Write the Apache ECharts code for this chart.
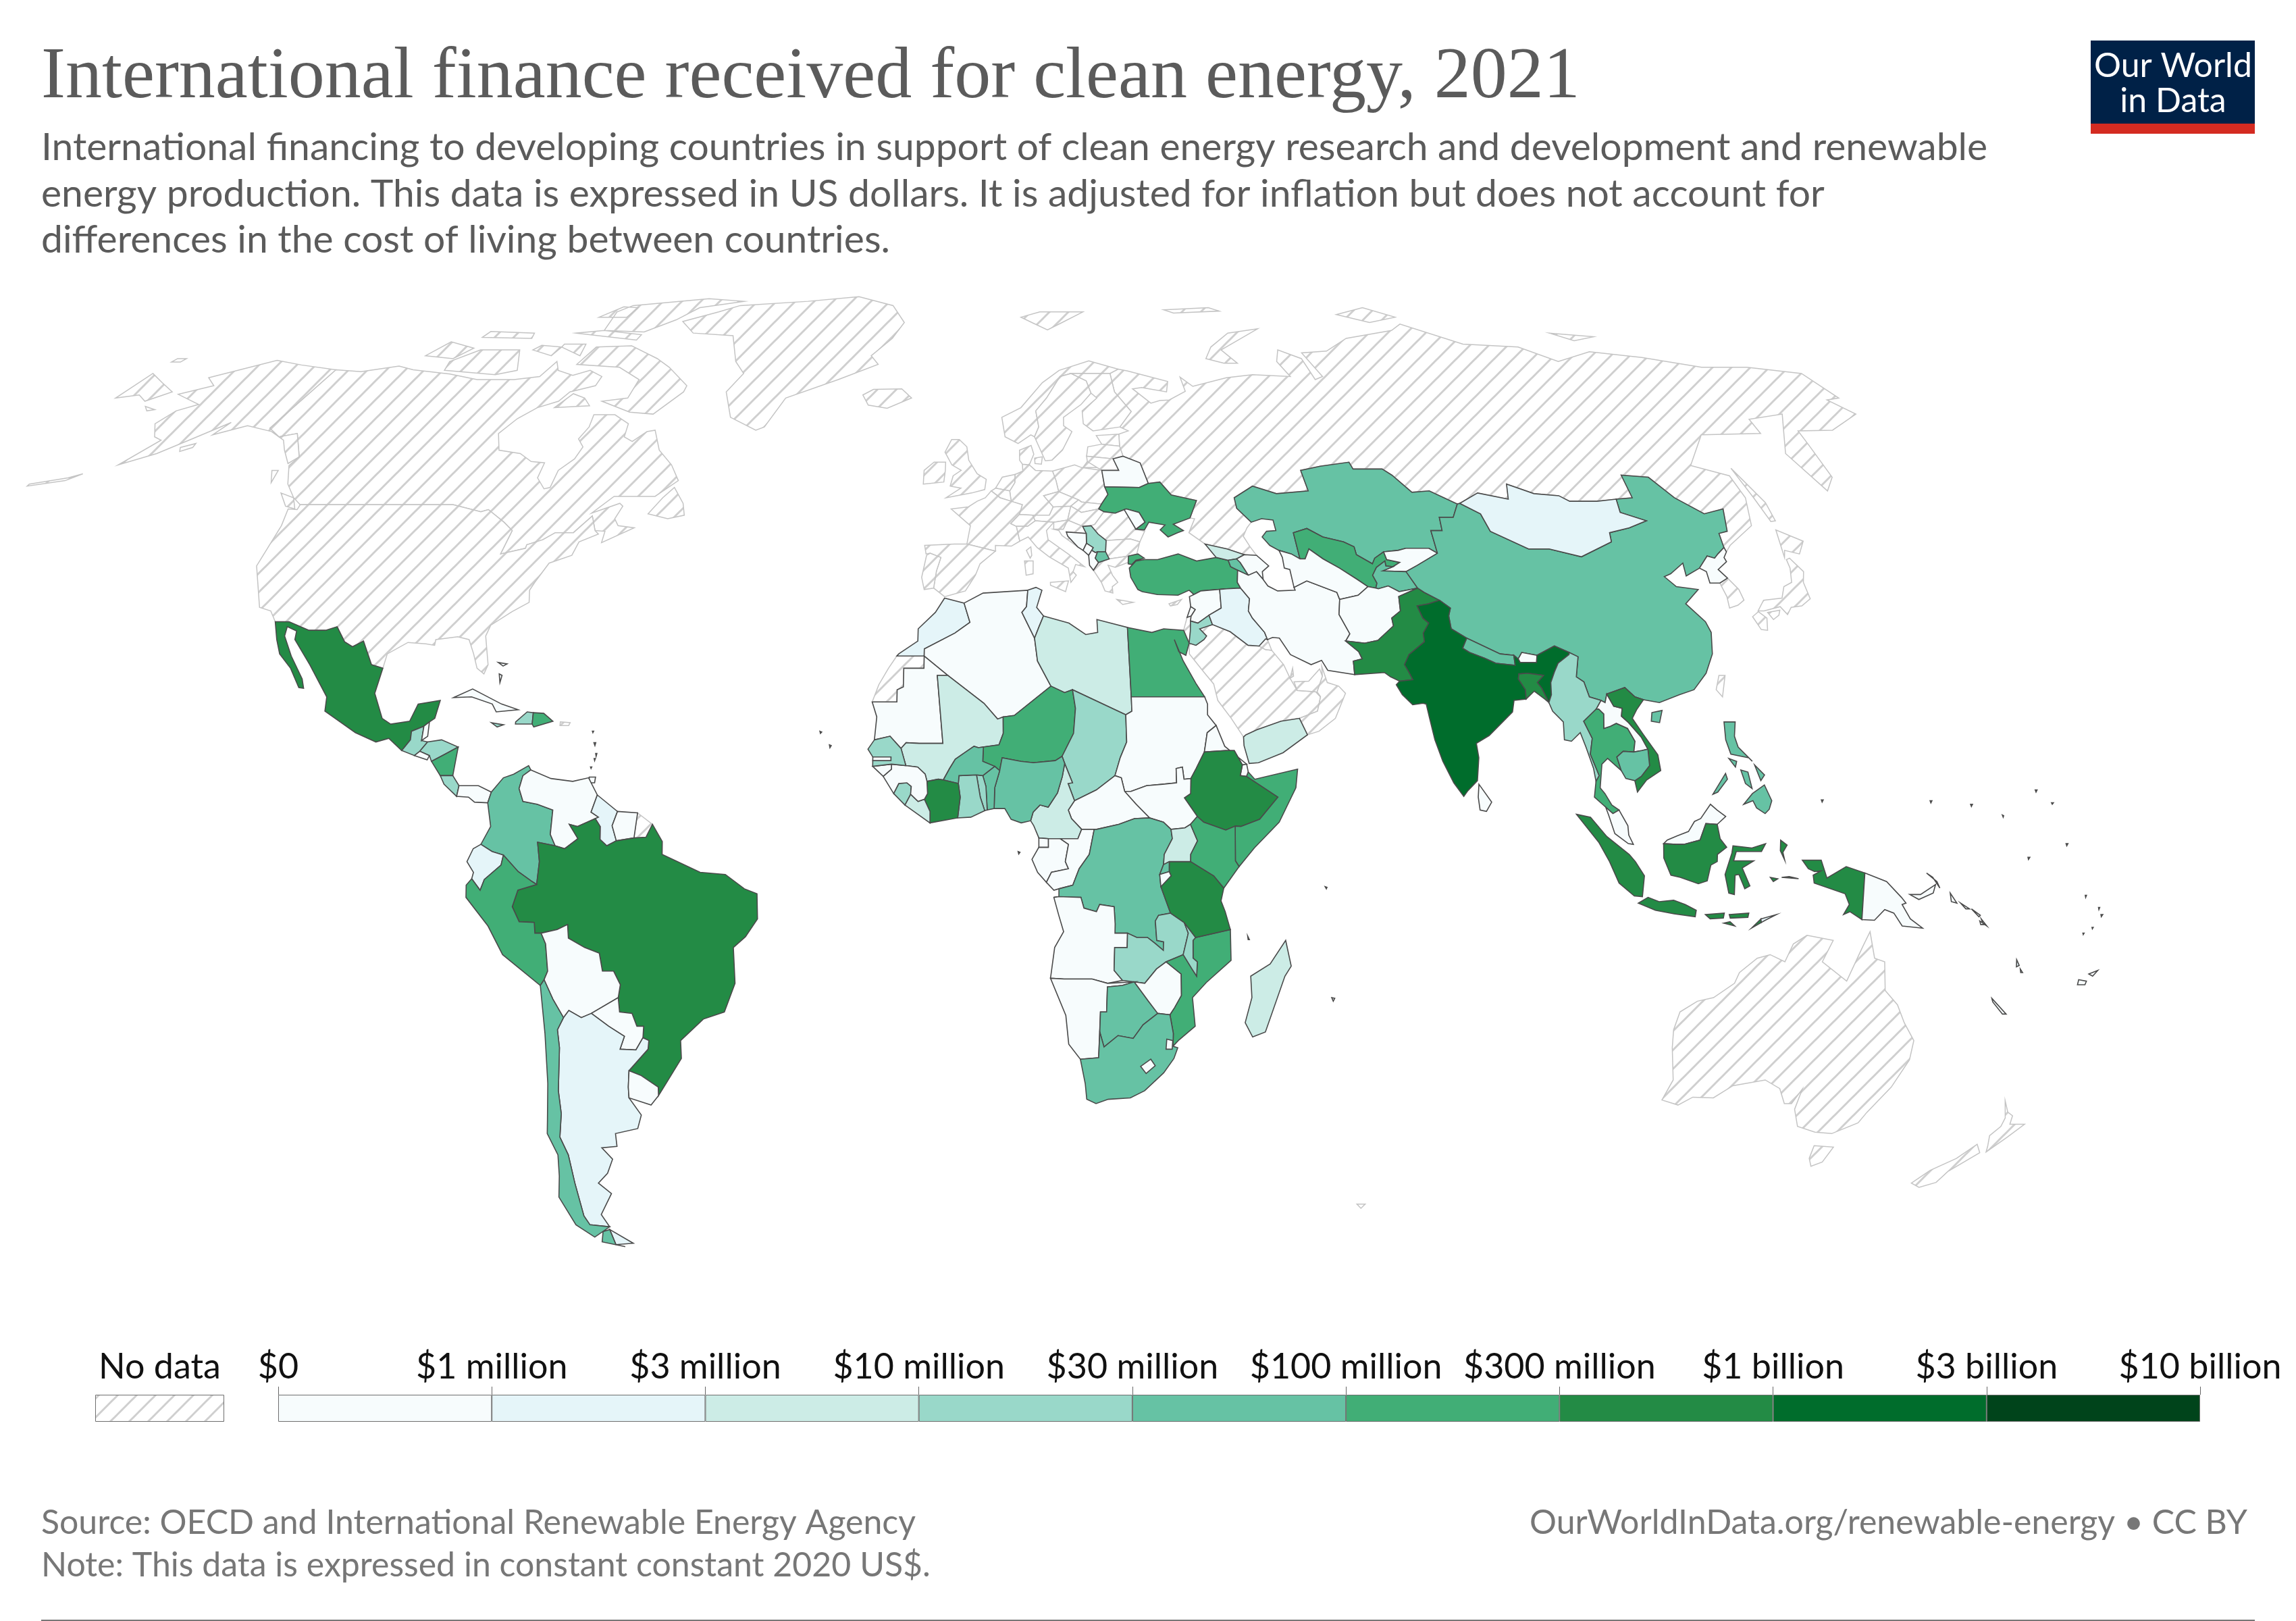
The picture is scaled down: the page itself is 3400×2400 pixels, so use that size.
<!DOCTYPE html>
<html><head><meta charset="utf-8">
<style>html,body{margin:0;padding:0;background:#fff}#c{width:3400px;height:2400px}</style>
<script src="https://cdn.jsdelivr.net/npm/echarts@6/dist/echarts.min.js"></script>
</head><body><div id="c"></div>
<script>
// ---------- legend bins ----------
const tickValues = [0, 1, 3, 10, 30, 100, 300, 1000, 3000, 10000]; // US$ million
const tickLabels = ['$0','$1 million','$3 million','$10 million','$30 million','$100 million','$300 million','$1 billion','$3 billion','$10 billion'];
const binColors = ['#f7fcfd','#e5f5f9','#ccece6','#99d8c9','#66c2a4','#41ae76','#238b45','#006d2c','#00441b'];
const legendBinSpan = [1,1,1,1,1,1,1,1,1];

// ---------- values (US$ million, estimated from the colour bin) ----------
const namesAmericas = ['Mexico','Guatemala','Belize','Honduras','El Salvador','Nicaragua','Costa Rica','Panama','Cuba','Bahamas','Jamaica','Haiti','Dominican Republic','Colombia','Venezuela','Guyana','Suriname','Ecuador','Peru','Brazil','Bolivia','Paraguay','Argentina','Uruguay','Chile','Antigua','Dominica','St Lucia','St Vincent','Grenada','Trinidad'];
const valuesAmericas = [500,15,0.4,15,0.5,150,15,0.5,0.5,0.2,15,15,150,60,0.3,2,0.5,2,150,600,0.5,0.5,2,0.5,60,0.2,0.2,0.2,0.2,0.2,0.2];
const namesAfrica = ['Morocco','Algeria','Tunisia','Libya','Egypt','Mauritania','Mali','Niger','Chad','Sudan','Eritrea','Djibouti','Ethiopia','Somalia','South Sudan','Central African Republic','Cameroon','Nigeria','Benin','Togo','Ghana','Burkina Faso','Ivory Coast','Liberia','Sierra Leone','Guinea','Guinea-Bissau','Senegal','Gambia','Gabon','Equatorial Guinea','Congo','DR Congo','Angola','Zambia','Namibia','Botswana','Zimbabwe','Mozambique','Malawi','Tanzania','Rwanda','Burundi','Uganda','Kenya','South Africa','Lesotho','Eswatini','Madagascar','Cape Verde','Sao Tome','Comoros','Mauritius','Seychelles'];
const valuesAfrica = [2,0.5,2,5,150,0.5,5,150,20,0.3,0.2,0.3,500,150,0.3,0.4,6,60,60,15,20,60,500,5,15,0.5,0.2,15,0.2,0.5,0.1,0.4,60,0.6,15,0.4,60,0.5,150,15,500,50,0.4,6,150,60,0.2,0.2,5,0.3,0.1,0.1,0.3,0.1];
const namesEurope = ['Belarus','Ukraine','Moldova','Serbia','Bosnia','Montenegro','Albania','North Macedonia','Turkey','Georgia','Armenia','Azerbaijan'];
const valuesEurope = [0.3,150,0.5,15,0.5,0.5,0.6,50,200,5,50,0.5];
const namesAsia = ['Syria','Lebanon','Jordan','Iraq','Iran','Yemen','Kazakhstan','Uzbekistan','Turkmenistan','Kyrgyzstan','Tajikistan','Afghanistan','Pakistan','India','Nepal','Bhutan','Bangladesh','Myanmar','Thailand','Laos','Vietnam','Cambodia','Malaysia','Indonesia','Timor','Philippines','China','Mongolia','North Korea','Sri Lanka'];
const valuesAsia = [0.4,0.5,20,2,0.5,5,50,150,0.5,0.5,50,0.5,600,1800,50,0.5,500,20,150,0.6,600,50,0.5,600,2,60,70,2,0.1,0.5];
const namesOceania = ['Papua New Guinea','Solomon Islands','Vanuatu','New Caledonia','Fiji','Palau','Micronesia','Marshall Islands','Kiribati','Nauru','Tuvalu','Samoa','Tonga'];
const valuesOceania = [0.5,0.6,2,0.3,0.5,0.2,0.2,0.2,0.2,0.1,0.1,0.2,0.2];

// ---------- base map: hand-simplified outlines, lon,lat ----------
const noDataShapes = {
 'Canada':['-141,69.6 -135,69.3 -128,70.2 -124,69.6 -115,68.9 -108,68 -100,68 -95,68.5 -94,71 -92,69.5 -88,68.7 -85,69.5 -81.5,68.5 -81.5,67 -86,66 -87,64.5 -90.5,63.5 -93,61.8 -94.7,59.5 -92.5,57 -88,56.5 -85,55.3 -82.3,55.1 -82.2,52.9 -80,51.3 -79,51.5 -79,54 -77,55.7 -76.6,57.5 -78.3,58.7 -77.5,60.5 -78,62.4 -73.7,62.4 -70,61 -69.5,59 -67.5,58.3 -65.5,59.8 -64,60 -61.5,57 -58,54.8 -55.7,52.5 -59,50.2 -66.5,50.2 -69.5,47.8 -65,49.2 -64.3,48.8 -65,47 -64,46 -61,45.7 -66,43.6 -66,45.2 -67.8,45.3 -69.2,47.4 -71.5,45 -74.7,45 -76.5,44 -79,43.3 -79,42.8 -83,42 -82.5,45.3 -84.6,46.5 -88.4,48.3 -89.6,48 -95.2,49 -123,49 -125,50 -128,52 -130.5,54.7 -130,56 -134.5,59.5 -137.5,59 -141,60.3',
  '-80,73.7 -72,71.5 -68,70 -62,67 -62,66 -66,62.5 -71,62.8 -78,64.5 -73,65 -73,68 -79,70 -89,70.5 -88,73.5','-117,69.5 -105,68.8 -101,69.5 -105,73 -114,73 -118,71','-125,72 -118,71.5 -116,73.3 -123,74.4','-90,76.5 -80,76.2 -75,78.5 -72,81 -62,82.5 -72,83.1 -90,81.5 -92,80','-96,76 -80,74.7 -80,75.7 -90,76.5','-117,75.2 -105,75 -106,76 -117,76.3','-95,79 -88,79 -88,81 -92,81.2','-96,73.5 -90,72 -91,74 -96,74','-87,63.5 -80,63.8 -82,65 -85,65.7','-59.3,47.7 -55.5,47 -52.7,47.5 -53.5,49.2 -56,51.5 -57.5,50','-128,50.7 -125,50 -123.5,48.4 -125.5,48.8','-133,54 -131.8,54 -131.3,52.2','-102,73 -96.5,72 -96,73.5 -101,73.8'],
 'United States':['-123,49 -95.2,49 -89.6,48 -88.4,48.3 -84.6,46.5 -82.5,45.3 -83,42 -79,42.8 -79,43.3 -76.5,44 -74.7,45 -71.5,45 -69.2,47.4 -67.8,45.3 -67,44.8 -70,43.7 -70.5,41.8 -74,40.7 -75.5,38 -76,36.9 -75.5,35.2 -78,33.9 -81,32 -81.4,30.5 -80.1,26.5 -80.5,25.2 -81.8,26 -82.8,28 -84,30 -86,30.4 -89.5,30 -89.5,29.2 -91,29.4 -94,29.6 -97,28 -97.2,26 -99.2,26.5 -101.4,29.8 -103,29 -104.5,29.7 -106.5,31.8 -108.2,31.3 -111,31.3 -114.8,32.5 -117.1,32.5 -118.5,34 -120.6,34.5 -122,36.8 -124.3,40.3 -124,46 -124.7,48.4 -123,48.3',
  '-141,69.6 -141,60.3 -137.5,59 -134.5,59.5 -130,56 -131,55 -134,57 -136,58.5 -140,59.8 -146,60.7 -151,59.3 -150,61.2 -154,58.8 -158,56.5 -163,54.8 -160,58.5 -162,59 -165,61 -164,63 -161,64 -168,65.6 -163,67 -166.5,68.3 -157,71.2 -150,70.4','-154.7,57.4 -152.5,58 -152.3,57.4 -154,56.8','-176,52 -170,52.9 -168,53.5 -170,52.5 -176,51.7','-171.5,63.7 -168.7,63.2 -170,63'],
 'Greenland':['-73,78.2 -68,76 -58,75.5 -54,71 -51,69 -53,66 -50,62 -44,60 -42.5,60.5 -40,65 -30,68 -22,70.5 -24,72 -20,75 -18,78 -22,81.5 -32,83.6 -45,82.5 -62,81.5 -66,80'],
 'Iceland':['-24,65.5 -22,66.4 -16,66.5 -13.7,65 -18.5,63.4 -22.5,63.9'],
 'Puerto Rico':['-67.2,18.5 -65.6,18.4 -65.8,18 -67.2,18'],
 'French Guiana':['-54,5.8 -51.6,4.2 -52.6,2.4 -54.5,2.3'],
 'Western Sahara':['-8.7,27.7 -8.7,26 -12,26 -12,23.4 -13,23 -13,21.3 -17,21.3 -16,23.7 -14.5,26 -13.2,27.7'],
 'Russia':['31,69.7 33,69.4 41,67.7 40,66 35,66.7 33,66.5 36,64.2 38,64.6 40,64.7 44,66.1 44,68.4 46,66.9 54,68.3 60,68.8 68,68.5 67,71 69,73 73,71.5 73,68 75,68.5 74,72.5 80,72.8 87,75 100,76.5 104,77.7 113,74 125,73.5 130,71 140,72.7 150,71.7 160,70 170,70 180,69 180,65 177,64.7 179,62.5 170,60 163,59.9 162,57.8 160,53 156.7,51 155.7,56.5 161,60.5 164,62.5 156,61.7 155,59.5 143,59.3 135.3,54.7 141,53.2 140.5,50 138,46 132,43.2 130.7,42.3 130.7,42.9 131.3,44.9 133,45.2 135,48.4 131,47.7 127.5,50 125.6,53 120.8,53.3 119.8,50 116.7,49.8 113,49.5 108,49.5 106.6,50.3 102.3,50.6 98.3,52 97,49.8 92,50.7 87.8,49.2 87.3,49.1 83.3,51 80,50.8 77.8,53.3 76.5,54.2 71,54.2 70.8,55.2 65,54.6 61,54 61,51 55,50.6 51,51.7 47,50 47,48.5 49,46.5 48,45.7 47,44.5 47.8,43 48.6,41.8 46.5,41.9 43.7,42.7 40,43.4 37.5,45 39,47 38.2,47.1 40,49.6 35.6,50.4 34,52.3 31.8,52.1 31,55.1 28,56.1 27.7,57.6 28,59.4 30,59.9 28.5,60.5 31.5,62.9 29,66 29,69',
  '-180,69 -175,67.5 -170,66 -173,64.5 -176,65.5 -180,65','-180,71.5 -178,71.5 -178,70.9 -180,70.9','51.5,71.5 55,70.7 58,70.7 56,73 68,76.8 60,76 54,73.5','48,80.5 60,81 62,80.2 50,79.8','142.5,54.3 143.5,49.3 142.9,46.7 142,46.6 142,50','20,54.4 22.8,54.4 22.8,55 21,55.3','91,79.5 100,81 105,79 97,78','137,76 146,75.3 140,74.6'],
 'Svalbard':['11,79 16,80 27,80 21,78 17,76.6 14,77.8'],
 'Norway':['31,69.7 29,69 25.7,69 20.5,69 18,68.5 14.5,65 12,63 12.3,60.5 11.3,59 10.6,59.3 8,58 5.5,59 5,62 9,63.5 14,67.5 18,69.5 25,71.1'],
 'Sweden':['20.5,69 23.5,67.8 24,65.8 21.5,64 17.5,62 17.3,60.7 18.8,59.8 16.5,57 14.3,55.5 13,55.4 11.3,59 12.3,60.5 12,63 14.5,65 18,68.5'],
 'Finland':['25.7,69 29,69 29,66 31.5,62.9 28.5,60.5 23,59.9 21.3,61 21.5,63 25,65 24,65.8 23.5,67.8 20.5,69'],
 'Estonia':['28,59.4 27.7,57.6 24.3,57.9 23.5,59.2'],
 'Latvia':['27.7,57.6 28,56.1 26,55.7 21,56.1 21.5,57.5 24.3,57.9'],
 'Lithuania':['26,55.7 26.7,54 23.5,54 21,55.3 21,56.1'],
 'Poland':['14.2,53.9 18.5,54.8 19.8,54.4 23.5,54 23.6,51.6 24,50.5 22.6,49.1 19,49.4 18.5,49.7 15,50.9 14.7,52.5'],
 'Germany':['8.6,54.9 9.9,54.8 11,54 14.2,53.9 14.7,52.5 15,50.9 12.2,50.3 13.8,48.7 13,47.5 10,47.5 7.6,47.6 8.2,49 6.2,49.5 6,51 7,52.2 7.1,53.4 8.6,53.9'],
 'Denmark':['8.6,54.9 9.9,54.8 10.9,56.4 10.5,57.7 8.2,57 8.1,55.5','11,55.8 12.5,56 12.2,54.9 11,55'],
 'Netherlands':['7.1,53.4 7,52.2 6,51 3.4,51.4 4.7,53'],
 'Belgium':['6,51 6.2,49.5 4.2,50 2.6,51 3.4,51.4'],
 'France':['2.6,51 4.2,50 6.2,49.5 8.2,49 7.6,47.6 6,46.3 7,45.9 7.5,43.8 6,43.1 3.2,43.2 3.2,42.4 -1.8,43.4 -1.2,46 -4.7,48.4 -1.6,48.7 0,49.5 1.5,50','8.6,42.5 9.4,43 9.5,41.8 9.2,41.4'],
 'Spain':['-1.8,43.4 3.2,42.4 0.5,40.6 -0.3,39 -2,36.8 -5.5,36 -7.4,37.2 -7,39.6 -6.3,41.5 -8.2,42.1 -8.9,42 -9.2,43.2 -4,43.4'],
 'Portugal':['-7.4,37.2 -9,37 -9.5,38.7 -8.8,41.8 -8.2,42.1 -6.3,41.5 -7,39.6'],
 'United Kingdom':['-5.7,50 -1,50.7 1.4,51.2 1.7,52.7 0,53.5 -1.6,55.5 -2,57.5 -3.5,58.6 -5,58.6 -6.2,56.7 -4.8,54.8 -3,54 -4.5,53.2 -5,51.7 -3,51.4'],
 'Ireland':['-10,52 -6.2,52.3 -6,54 -6,55.2 -8.2,55.2 -10,54'],
 'Switzerland':['7.6,47.6 10,47.5 10.4,46.7 9,45.9 7,45.9 6,46.3'],
 'Austria':['10,47.5 13,47.5 13.8,48.7 17,48.8 16.2,46.8 13.7,46.5 10.4,46.7'],
 'Italy':['7,45.9 9,45.9 10.4,46.7 13.7,46.5 12.3,45.3 12.5,44 16,41.9 18.5,40.2 17,40.5 16.5,39.5 17,39 16,38 15.7,40 12.5,41.6 10.5,42.9 9,44.4 7.5,43.8','12.5,38 15.6,38.2 15,36.7 12.5,37.6','8.2,41 9.7,41 9.6,39.2 8.4,39'],
 'Czechia':['12.2,50.3 15,50.9 18.5,49.7 17,48.8 13.8,48.7'],
 'Slovakia':['17,48.8 18.5,49.7 19,49.4 22.6,49.1 22,48.4 18.8,47.9'],
 'Hungary':['17,48.8 18.8,47.9 22,48.4 22.9,48 21,46.2 20.3,46 18.8,45.9 16.2,46.8'],
 'Romania':['22.9,48 24.9,47.8 26.6,48.3 28.2,45.5 29.7,45.2 28.6,43.7 27,44.1 22.7,43.9 21.4,44.8 20.3,46 21,46.2'],
 'Bulgaria':['22.7,43.9 27,44.1 28.6,43.7 27.8,42 26.3,41.7 22.9,41.3 22.4,42.3'],
 'Greece':['20,39.7 21,40.8 22.9,41.3 26.3,41.7 26.1,40.8 23.8,40.1 22.6,40.4 23.2,39 24,38 23,37.4 23,36.5 21.7,36.8 21.2,38','23.6,35.6 26.3,35.2 24.5,34.9'],
 'Cyprus':['32.3,35 34.5,35.6 33.7,34.9 32.5,34.7'],
 'Croatia':['13.6,45.5 14.5,45.3 15,44.6 17.6,43 18.5,42.5 16,44.5 15.8,45.1 19.3,44.9 18.8,45.9 16.2,46.8 15.3,45.5'],
 'Slovenia':['13.7,46.5 16.2,46.8 15.3,45.5 13.6,45.5'],
 'Israel':['35.1,33.1 35.8,33.3 35.6,32.6 35.4,31.2 35,29.5 34.3,31.3'],
 'Saudi Arabia':['36.1,29.2 37.5,30 38,30.5 37,31.5 39.2,32.1 42,31.1 44.7,29.2 46.5,29.1 47.5,28.6 48.5,28.5 50.2,26.5 51,24.6 52,22.9 55,22.7 55.7,22 55,20 52,19 49,18.6 45,17.4 43.2,16.7 42.8,16.4 41,19 39,21.5 38.5,23.8 37,25.5 34.9,28 35,29.5'],
 'Oman':['52,19 55,20 55.7,22 55.2,22.7 56.3,24.9 56.4,26.3 57,24 58.8,23.5 59.8,22.5 57.8,19 55,17.2 53.1,16.7'],
 'UAE':['51.6,24.1 52,22.9 55,22.7 55.7,22 55.2,22.7 56.3,24.9 56,25.9 54,24.2'],
 'Kuwait':['47.7,30.1 48,30 48.5,28.5 47.5,28.6 46.5,29.1'],
 'Qatar':['51,24.6 51.6,26 51.6,24.9'],
 'South Korea':['128.4,38.6 129.4,37 129.4,35.5 128,34.8 126.4,34.4 126.8,36 126.7,37.6 126.7,37.9'],
 'Japan':['141,41.4 142,39.5 141,38 140.7,35.7 138.7,34.7 136.8,34.5 135.7,33.5 135,34.6 132,34 131,34 132.7,35.5 136,35.8 137.3,37.4 139,38 140,40 140.3,41.2','140.2,41.5 141.8,45.4 145.3,43.8 143.2,42 141,42.5','131,33.9 132,33 131.3,31.3 130.3,31.4 129.7,33.2','132.5,33.8 134.7,34.1 134.2,33.4 133,32.8'],
 'Taiwan':['121,25 122,25 120.9,22 120.1,23'],
 'Australia':['114,-22 116.5,-20.5 119,-20 122,-18 122.5,-16.5 125,-14.5 127,-14 129.5,-15 130.5,-12.5 132.5,-11.3 136.8,-12 135.5,-15 140,-17.7 141.6,-13 142.5,-10.8 143.8,-14.5 145.5,-15 146.5,-19 149,-21 150.8,-23.5 153.2,-26 153.6,-28.7 152.5,-32.5 150.5,-36 150,-37.5 146.5,-39 143.5,-38.8 140,-38 138,-35.6 137.8,-32.8 137,-34.8 135.8,-34.8 134,-32.7 131,-31.5 126,-32.3 123.5,-34 120,-33.9 118,-35 115,-34.3 115.7,-31.5 114,-27 113.5,-24.5','144.7,-40.7 148.2,-40.9 148,-43 146.5,-43.6 145.3,-42.5'],
 'New Zealand':['172.7,-34.4 174.3,-36 175.5,-36.5 176,-37.7 178.5,-37.7 177,-39.5 175.3,-41.6 174.8,-40.8 173.8,-39.3 174.7,-38 174.5,-36.8','172.7,-40.5 174.3,-41.7 171.3,-44.3 170.8,-45.9 168.5,-46.6 166.5,-46 168,-44.2 171,-42.5'],
 'Kerguelen':['69,-49 70.5,-49 70,-49.6']
};
const dataShapes = {
 'Mexico':['-117.1,32.5 -114.8,32.5 -111,31.3 -108.2,31.3 -106.5,31.8 -104.5,29.7 -103,29 -101.4,29.8 -99.2,26.5 -97.2,26 -97.8,22.5 -96,19 -94.5,18.2 -91.5,18.6 -90.5,21 -87,21.5 -87.5,19 -88.3,18.5 -89.1,17.9 -91,17.2 -91,16 -92.2,14.5 -94.5,16.2 -96.5,15.7 -100,17 -105.4,20 -105.5,22 -109.3,26.5 -112.8,30 -113,31.2 -114.8,31.8 -114.7,30.5 -112.7,27.7 -110,24.5 -109.5,23.2 -110.3,23.3 -112.3,26 -114.7,28 -115.8,30'],
 'Guatemala':['-92.2,14.5 -91,16 -91,17.2 -89.1,17.9 -89.2,15.9 -88.2,15.7 -89.3,14.4 -90.1,13.8'],
 'Belize':['-89.1,17.9 -88.3,18.5 -88.3,16.5 -89.2,15.9'],
 'Honduras':['-89.3,14.4 -88.2,15.7 -86,16 -83.2,15 -85,14.1 -87.3,13 -87.7,13.8'],
 'El Salvador':['-90.1,13.8 -89.3,14.4 -87.7,13.8 -88,13.2'],
 'Nicaragua':['-87.3,13 -85,14.1 -83.2,15 -83.7,11 -85.7,11'],
 'Costa Rica':['-85.7,11 -83.7,11 -82.6,9.6 -82.9,8.1 -85,9.8'],
 'Panama':['-82.6,9.6 -79.5,9.6 -77.4,8.7 -77.9,7.2 -80,7.3 -81,8 -82.9,8.1'],
 'Cuba':['-84.9,21.9 -82,23.1 -77,21 -74.2,20.2 -77.7,19.9 -78.5,21 -82,22'],
 'Bahamas':['-78.5,26.8 -77,26.6 -77.6,26.3','-78,25.2 -77.5,25 -77.7,24'],
 'Jamaica':['-78.3,18.4 -76.3,18.1 -77.3,17.8'],
 'Haiti':['-74.4,18.5 -72.7,19.9 -71.7,19.8 -71.7,18.2 -74.4,18.2'],
 'Dominican Republic':['-71.7,19.8 -70,19.7 -68.4,18.6 -71.4,17.8 -71.7,18.2'],
 'Antigua':['-61.9,17.2 -61.7,17.2 -61.8,17'],'Dominica':['-61.5,15.6 -61.2,15.6 -61.3,15.2'],'St Lucia':['-61.1,14.1 -60.9,14.1 -61,13.7'],'St Vincent':['-61.3,13.4 -61.1,13.4 -61.2,13.1'],'Grenada':['-61.8,12.2 -61.6,12.2 -61.7,12'],
 'Trinidad':['-61.9,10.8 -60.9,10.8 -61,10 -61.9,10'],
 'Colombia':['-71.7,12.4 -71.3,11.8 -72.5,11 -73,9.2 -72.3,7.4 -70,7 -67.5,6.2 -67.8,2.8 -67,1.2 -69.8,1.7 -69.5,-1 -70,-4.2 -70.7,-3.8 -72.9,-2.4 -75.2,-0.1 -77,0.4 -78.8,1.4 -77.3,3.9 -77.9,7.2 -77.4,8.7 -75.6,10.7 -74,11.2'],
 'Venezuela':['-71.3,11.8 -68,10.6 -64.5,10.2 -62,10.7 -60.5,8.3 -61.4,5.9 -60.2,5.2 -60.7,5 -63.5,3.9 -64.8,4.2 -63.4,2.2 -65.5,0.8 -67,1.2 -67.8,2.8 -67.5,6.2 -70,7 -72.3,7.4 -73,9.2 -72.5,11'],
 'Guyana':['-60.5,8.3 -57.2,6 -58,4 -57.3,1.9 -58.8,1.2 -59.9,2.1 -59.9,3.9 -60.7,5 -60.2,5.2 -61.4,5.9'],
 'Suriname':['-57.2,6 -54,5.8 -54.5,2.3 -57.3,1.9 -58,4'],
 'Brazil':['-51.6,4.2 -50,1.8 -50,0 -48.3,-0.7 -44,-2.5 -40,-2.8 -37,-4.8 -35,-5.5 -35,-9 -37,-11.5 -39,-13 -39,-18 -41,-22 -44.5,-23 -48.5,-26 -48.7,-28.5 -52,-32.2 -53.4,-33.7 -53.2,-32.5 -55.7,-30.9 -57.6,-30.2 -54,-27.2 -53.7,-26 -54.6,-25.6 -54.3,-24 -55.4,-24 -56,-22.2 -58,-22 -58,-20 -57.5,-18.2 -58.4,-16.3 -60.2,-16.3 -60.5,-13.8 -62.8,-13 -65.3,-11.7 -65.3,-9.8 -67,-10.5 -69.6,-11 -70.6,-11 -70.6,-9.5 -73,-9.4 -74,-7.3 -73,-5 -70,-4.2 -69.5,-1 -69.8,1.7 -67,1.2 -65.5,0.8 -63.4,2.2 -64.8,4.2 -63.5,3.9 -60.7,5 -59.9,3.9 -59.9,2.1 -58.8,1.2 -57.3,1.9 -54.5,2.3 -52.6,2.4'],
 'Ecuador':['-78.8,1.4 -77,0.4 -75.2,-0.1 -75.6,-1.5 -78.3,-3.5 -79,-5 -80.3,-3.4 -80,-2.5 -81,-1 -80,0.8'],
 'Peru':['-75.2,-0.1 -72.9,-2.4 -70.7,-3.8 -70,-4.2 -73,-5 -74,-7.3 -73,-9.4 -70.6,-9.5 -70.6,-11 -69.6,-11 -69,-12.5 -69,-16.3 -69.7,-17.5 -70.4,-18.3 -76,-14 -78,-10 -81.3,-6 -81.2,-4.3 -80.3,-3.4 -79,-5 -78.3,-3.5 -75.6,-1.5'],
 'Bolivia':['-69.6,-11 -67,-10.5 -65.3,-9.8 -65.3,-11.7 -62.8,-13 -60.5,-13.8 -60.2,-16.3 -58.4,-16.3 -57.5,-18.2 -58,-20 -62.6,-22.2 -64.3,-22.8 -66.2,-21.8 -67.2,-22.8 -68.6,-20.2 -69.7,-17.5 -69,-16.3 -69,-12.5'],
 'Paraguay':['-58,-20 -58,-22 -56,-22.2 -55.4,-24 -54.3,-24 -54.6,-25.6 -56,-27.3 -58.6,-27.2 -57.6,-25.4 -60,-24 -62.6,-22.2'],
 'Argentina':['-66.2,-21.8 -64.3,-22.8 -62.6,-22.2 -60,-24 -57.6,-25.4 -58.6,-27.2 -56,-27.3 -54.6,-25.6 -53.7,-26 -54,-27.2 -57.6,-30.2 -58.2,-32.5 -58.4,-34 -56.9,-36.4 -58,-38.3 -62,-39 -62.3,-40.8 -65,-41 -63.7,-42.6 -65.3,-44.6 -67.5,-46 -65.8,-47.5 -69,-50.5 -68.4,-52.3 -71.9,-52 -72.3,-50.7 -71.7,-46 -71.2,-42 -71.7,-39.5 -70.4,-36.2 -70,-33 -68.5,-27 -68.4,-24.5 -67.2,-22.8','-68.6,-52.7 -68.6,-54.9 -65.2,-54.7'],
 'Chile':['-70.4,-18.3 -69.7,-17.5 -68.6,-20.2 -67.2,-22.8 -68.4,-24.5 -68.5,-27 -70,-33 -70.4,-36.2 -71.7,-39.5 -71.2,-42 -71.7,-46 -72.3,-50.7 -71.9,-52 -68.4,-52.3 -72,-53.8 -74.5,-52 -75.5,-48 -74,-45 -73,-42 -73.7,-39 -73,-37 -71.5,-32 -70.5,-25','-68.6,-52.7 -68.6,-54.9 -67,-55.2 -71,-54.5 -70,-53'],
 'Uruguay':['-57.6,-30.2 -55.7,-30.9 -53.2,-32.5 -53.4,-33.7 -54.9,-35 -58.4,-34 -58.2,-32.5'],
 'Morocco':['-5.5,35.8 -2.2,35.1 -1.2,32.4 -3.7,30.9 -8.7,28.7 -8.7,27.7 -13.2,27.7 -12.9,28 -9.8,29.8 -9.8,31.5 -7,33.8'],
 'Algeria':['-2.2,35.1 1,36.5 8.6,36.9 8.3,34.6 7.5,33.8 9.5,30.2 9.9,27 12,23.5 6,19.4 4.2,19.2 3.3,18.9 1.1,21.1 -4.8,25 -8.7,27.7 -8.7,28.7 -3.7,30.9 -1.2,32.4'],
 'Tunisia':['8.6,36.9 10,37.3 11,36.9 10,34.5 11.1,33.3 10.3,31.8 9.5,30.2 7.5,33.8 8.3,34.6'],
 'Libya':['11.1,33.3 15.3,32.3 18,30.7 20,31 20,32.8 25,31.7 25,22 25,20 24,19.5 15.5,23 14.2,22.6 12,23.5 9.9,27 9.5,30.2 10.3,31.8'],
 'Egypt':['25,31.7 29,31 31,31.5 34.3,31.3 35,29.5 34.3,27.8 33.2,28.3 32.6,30 33.8,27 35.6,23.9 36.9,22 25,22'],
 'Mauritania':['-17,21.3 -13,21.3 -13,23 -12,23.4 -12,26 -8.7,26 -8.7,27.7 -4.8,25 -6.5,25 -5.5,15.5 -9.3,15.5 -11.4,15.6 -12.2,14.8 -14,16.5 -16.5,16 -16.2,19.2'],
 'Mali':['-4.8,25 1.1,21.1 3.3,18.9 4.2,19.2 4.2,16.9 3.5,15.3 1,15 0.2,14.9 -0.5,15.1 -2,14.2 -3.5,13.3 -4.4,12 -5.4,10.4 -6.2,10.5 -8,10.2 -8.3,11.2 -9.5,12.2 -11.4,12.4 -12.2,14.8 -11.4,15.6 -9.3,15.5 -5.5,15.5 -6.5,25'],
 'Niger':['4.2,19.2 6,19.4 12,23.5 14.2,22.6 15.5,23 15.9,20.4 15.5,16.9 13.6,13.7 12.5,13.1 9,12.8 7,13 4,13.5 3.6,11.7 2.8,12.3 0.9,13 1,15 3.5,15.3 4.2,16.9'],
 'Chad':['15.5,23 24,19.5 24,15.7 22.9,13.5 22,11 19,9 15.5,7.5 14.5,9.9 15.2,10 14,12.7 13.6,13.7 15.5,16.9 15.9,20.4'],
 'Sudan':['25,22 36.9,22 37.3,21 37.2,19.5 38.5,18 37,17 36.4,14.3 35,12 34.1,10.6 33,10.5 32.8,12.2 31.8,12 31.8,10 29.6,9.8 27,9.6 24.5,8.8 23.5,8.8 23,10.7 22,11 22.9,13.5 24,15.7 24,19.5 25,20'],
 'Eritrea':['38.5,18 39.7,15.1 43.1,12.6 42.4,12.5 41.2,14.5 39.8,14.5 36.4,14.3 37,17'],
 'Djibouti':['42.4,12.5 43.1,12.6 43.3,11.5 43,10.9 42,11'],
 'Ethiopia':['36.4,14.3 39.8,14.5 41.2,14.5 42.4,12.5 42,11 43,10.9 47.9,8 44.9,4.9 41.9,3.9 41,3.95 39.5,3.4 36,4.5 35,5.3 33,7.9 34,8.5 34.1,10.6 35,12'],
 'Somalia':['43.3,11.5 44.3,10.5 51.2,11.9 50.8,9.3 48,4.5 44,0.9 41.6,-1.7 41,-0.9 41,3.95 41.9,3.9 44.9,4.9 47.9,8 43,10.9'],
 'South Sudan':['23.5,8.8 24.5,8.8 27,9.6 29.6,9.8 31.8,10 31.8,12 32.8,12.2 33,10.5 34.1,10.6 34,8.5 33,7.9 35,5.3 33.9,4.2 33,3.7 30.8,3.5 29.6,4.5 27.4,5.1 25.3,7'],
 'Central African Republic':['15.5,7.5 19,9 22,11 23,10.7 23.5,8.8 25.3,7 27.4,5.1 25,5 22.5,4.2 19,3.5 18.6,3.5 16.6,3.5 15,5 14.5,6.2'],
 'Cameroon':['8.5,4.7 9,4 9.8,2.3 11.3,2.2 13.2,2.2 16,2.2 16.6,3.5 15,5 14.5,6.2 15.5,7.5 14.5,9.9 15.2,10 14,12.7 13.6,10.9 12.8,8.6 11.3,6.6 10,6.9 8.9,5.9'],
 'Nigeria':['2.7,6.4 4.4,6.4 5.4,4.9 7,4.4 8.5,4.7 8.9,5.9 10,6.9 11.3,6.6 12.8,8.6 13.6,10.9 14,12.7 13.6,13.7 12.5,13.1 9,12.8 7,13 4,13.5 3.6,11.7 2.8,9.3'],
 'Benin':['1.6,6.2 2.7,6.4 2.8,9.3 3.6,11.7 2.8,12.3 0.9,11 1.4,9.5'],
 'Togo':['1.2,6.1 1.6,6.2 1.4,9.5 0.9,11 -0.1,11.1 0.5,8'],
 'Ghana':['-3.1,5.1 -1,5.2 1.2,6.1 0.5,8 -0.1,11.1 -2.9,11 -3,9.9 -2.7,8'],
 'Burkina Faso':['-5.4,10.4 -3,9.9 -2.9,11 -0.1,11.1 0.9,11 2.8,12.3 0.9,13 1,15 0.2,14.9 -0.5,15.1 -2,14.2 -3.5,13.3 -4.4,12'],
 'Ivory Coast':['-7.5,4.4 -3.1,5.1 -2.7,8 -3,9.9 -5.4,10.4 -6.2,10.5 -8,10.2 -7.9,8.5 -8.4,7.7 -7.5,6'],
 'Liberia':['-11.5,6.9 -7.5,4.4 -7.5,6 -8.4,7.7 -9.4,7.4 -10.6,8.4'],
 'Sierra Leone':['-13.3,8.5 -11.5,6.9 -10.6,8.4 -10.5,9.5 -11.2,10 -12.5,9.9'],
 'Guinea':['-15,10.9 -13.3,8.5 -12.5,9.9 -11.2,10 -10.5,9.5 -10.6,8.4 -9.4,7.4 -8.4,7.7 -7.9,8.5 -8,10.2 -8.3,11.2 -9.5,12.2 -11.4,12.4 -13.7,12.6 -13.7,11.9'],
 'Guinea-Bissau':['-16.7,12.3 -15,10.9 -13.7,11.9 -13.7,12.6'],
 'Senegal':['-17.5,14.7 -16.5,16 -14,16.5 -12.2,14.8 -11.4,12.4 -13.7,12.6 -16.7,12.3 -16.7,13.1 -13.8,13.1 -13.8,13.6 -16.7,13.6'],
 'Gambia':['-16.7,13.1 -13.8,13.1 -13.8,13.6 -16.7,13.6'],
 'Gabon':['8.7,-0.7 9.8,1 11.3,1 11.3,2.2 13.2,2.2 14.5,1.4 14,-1 14.5,-2 11.8,-2.5 11,-3.9 9.6,-2.5'],
 'Equatorial Guinea':['9.8,1 11.3,1 11.3,2.2 9.8,2.3'],
 'Congo':['11,-3.9 11.8,-2.5 14.5,-2 14,-1 14.5,1.4 13.2,2.2 16,2.2 16.6,3.5 18.6,3.5 17.8,0 16.2,-2 15.2,-4.3 13,-4.8 12.2,-5'],
 'DR Congo':['12.2,-6 13,-5.9 13,-4.8 15.2,-4.3 16.2,-2 17.8,0 18.6,3.5 19,3.5 22.5,4.2 25,5 27.4,5.1 29.6,4.5 30.8,3.5 31,2.2 29.7,0 29.6,-1.4 29,-2.8 29.2,-4.5 30.8,-8.2 28.9,-8.5 28.4,-9.3 28.7,-12 29.8,-12.2 29.8,-13.4 28.4,-12.4 27.2,-11.6 25.5,-11.6 24,-11 22,-11 22,-9.7 21.8,-7.3 19.5,-7 19,-8 17,-7.5 16.5,-6'],
 'Angola':['12.2,-6 13,-5.9 16.5,-6 17,-7.5 19,-8 19.5,-7 21.8,-7.3 22,-9.7 22,-11 24,-11 24,-13 22,-13 22,-16.2 23.4,-17.6 21,-18 18.5,-17.4 14,-17.4 11.8,-17.3 12.4,-13 13.8,-10.8 13,-8.5'],
 'Zambia':['22,-13 24,-13 24,-11 25.5,-11.6 27.2,-11.6 28.4,-12.4 29.8,-13.4 29.8,-12.2 28.7,-12 28.4,-9.3 28.9,-8.5 30.8,-8.2 33,-9.5 33.7,-11 33,-14 30.3,-15 28.8,-16 27,-18 25.3,-17.8 23.4,-17.6 22,-16.2'],
 'Namibia':['11.8,-17.3 14,-17.4 18.5,-17.4 21,-18 25.3,-17.8 23.4,-18.3 21,-18.5 21,-22 20,-22 20,-28.4 17,-28.6 15,-26.5 14.4,-22.5'],
 'Botswana':['20,-22 21,-22 21,-18.5 23.4,-18.3 25.3,-17.8 27.7,-20.5 29.3,-22.2 27,-23.8 25.5,-25.7 23,-25.3 20.8,-26.9 20,-24.8'],
 'Zimbabwe':['25.3,-17.8 27,-18 28.8,-16 30.3,-15 32.8,-16.7 33,-19.7 32,-21.4 31.3,-22.4 29.3,-22.2 27.7,-20.5'],
 'Mozambique':['30.3,-15 33,-14 34.5,-16 35.3,-17 35.3,-15 34.6,-14.5 34.5,-12 34.9,-11.6 40.4,-10.5 40.7,-14.8 36.9,-17.9 34.8,-20 35.5,-24 32.9,-26 32.1,-26.8 32,-25 31.3,-22.4 32,-21.4 33,-19.7 32.8,-16.7'],
 'Malawi':['33,-9.5 34.9,-11.6 34.5,-12 34.6,-14.5 35.3,-15 35.3,-17 34.5,-16 33,-14 33.7,-11'],
 'Tanzania':['30.5,-1 33.9,-1 37.6,-3 39.2,-4.7 38.8,-6.5 39.5,-8 40.4,-10.5 34.9,-11.6 33,-9.5 30.8,-8.2 29.2,-4.5 30.8,-3 30.5,-2.4'],
 'Rwanda':['29,-2.8 29.6,-1.4 30.5,-1 30.5,-2.4'],
 'Burundi':['29,-2.8 30.5,-2.4 30.8,-3 29.2,-4.5'],
 'Uganda':['31,2.2 30.8,3.5 33,3.7 33.9,4.2 35,1.9 33.9,0 33.9,-1 30.5,-1 29.6,-1.4 29.7,0'],
 'Kenya':['33.9,4.2 35,5.3 36,4.5 39.5,3.4 41,3.95 41,-0.9 41.6,-1.7 39.2,-4.7 37.6,-3 33.9,-1 33.9,0 35,1.9'],
 'South Africa':['17,-28.6 20,-28.4 20,-24.8 20.8,-26.9 23,-25.3 25.5,-25.7 27,-23.8 29.3,-22.2 31.3,-22.4 32,-25 32.1,-26.8 32.9,-27 32.4,-28.5 30.9,-30.5 28,-33 25.7,-34 22,-34.2 20,-34.8 18.4,-34.2 18,-32'],
 'Lesotho':['27,-29.6 28.6,-28.6 29.4,-29.5 28,-30.6'],
 'Eswatini':['31,-25.8 32,-26 32,-27.2 31,-27.2'],
 'Madagascar':['49.3,-12 50.4,-15.6 49.5,-17 47,-24.8 45,-25.5 43.6,-23.5 44.4,-20 44,-17 47,-15.3'],
 'Cape Verde':['-25.3,17.2 -25,17.1 -25.2,16.9','-23.7,15.3 -23.4,15.2 -23.6,14.9'],
 'Sao Tome':['6.5,0.4 6.8,0.3 6.6,0.05'],
 'Comoros':['43.2,-11.4 43.5,-11.9 43.3,-11.9'],
 'Mauritius':['57.3,-20 57.8,-20.1 57.6,-20.5'],
 'Seychelles':['55.3,-4.5 55.6,-4.6 55.5,-4.8'],
 'Belarus':['28,56.1 31,55.1 31.8,52.1 30,51.5 23.6,51.6 23.5,54 26.7,54 26,55.7'],
 'Ukraine':['22.6,49.1 24,50.5 23.6,51.6 30,51.5 31.8,52.1 34,52.3 35.6,50.4 40,49.6 38.2,47.1 35,46.2 36.6,45.3 35.5,45 33.7,44.4 32.5,45.4 33.5,46.1 30.7,46.5 29.7,45.4 28.2,45.5 30,46.5 29.2,47.9 27,48.4 26.6,48.3 24.9,47.8 22.9,48 22,48.4'],
 'Moldova':['26.6,48.3 27,48.4 29.2,47.9 30,46.5 28.2,45.5'],
 'Serbia':['18.8,45.9 20.3,46 21.4,44.8 22.7,43.9 22.4,42.3 21,42.3 20.6,42.2 20,42.5 20.3,42.9 19.2,43.5 19.3,44.9'],
 'Bosnia':['15.8,45.1 19.3,44.9 19.2,43.5 18.5,42.5 17.6,43 16,44.5'],
 'Montenegro':['18.5,42.5 19.2,43.5 20.3,42.9 20,42.5 19.4,41.8'],
 'Albania':['19.4,41.8 20,42.5 20.6,42.2 21,42.3 20.5,41.4 21,40.8 20,39.7 19.4,40.4'],
 'North Macedonia':['20.5,41.4 21,42.3 22.4,42.3 22.9,41.3 21,40.8'],
 'Turkey':['26.2,40 27.5,41 29,41.2 31.3,41.2 35,42 38,41 41.5,41.5 43.5,41.1 43.7,40.2 44.8,39.7 44.4,38 44.8,37.2 42.4,37.1 38,36.8 36.7,36.3 36,36.9 34,36.2 30.5,36.3 28,36.7 27.3,37 26.3,38.7','26.1,40.6 26.3,41.7 28,42 29,41.4 27.5,41.1 26.7,40.5'],
 'Georgia':['40,43.4 43.7,42.7 46.5,41.9 45,41.3 43.5,41.1 41.5,41.5'],
 'Armenia':['43.5,41.1 45,41.3 45.5,40.8 46.5,39 44.8,39.7 43.7,40.2'],
 'Azerbaijan':['46.5,41.9 48.6,41.8 50.3,40.3 49,39.5 48.9,38.4 48,39.5 46.5,39 45.5,40.8 45,41.3'],
 'Syria':['42.4,37.1 41.2,37 41,34.4 38.8,33.4 36.8,32.3 35.6,32.6 35.8,33.3 36.6,34.2 35.9,34.6 35.9,36 36.7,36.3 38,36.8'],
 'Lebanon':['35.1,33.1 35.9,34.6 36.6,34.2 35.8,33.3'],
 'Jordan':['39.2,32.1 38.8,33.4 36.8,32.3 35.6,32.6 35.4,31.2 35,29.5 36.1,29.2 37.5,30 38,30.5 37,31.5'],
 'Iraq':['44.8,37.2 46,35.7 45.5,34 46,33 47.7,31 48,30 47.7,30.1 46.5,29.1 44.7,29.2 42,31.1 39.2,32.1 38.8,33.4 41,34.4 41.2,37 42.4,37.1'],
 'Iran':['44.8,39.7 46.5,39 48,39.5 48.9,38.4 49.5,37.5 51,36.8 54,36.9 53.9,37.3 56.3,38.2 61,36.6 61.2,35.6 60.6,33.5 61.8,30.8 60.9,29.8 62.8,28.3 63.2,27.3 61.7,27 61.6,25.1 57.3,25.7 56.5,27.1 54.7,26.5 51.5,27.9 50,30.2 48.9,30.3 48,30 47.7,31 46,33 45.5,34 46,35.7 44.8,37.2 44.4,38'],
 'Yemen':['43.2,16.7 45,17.4 49,18.6 52,19 53.1,16.7 49,14.2 45,12.8 43.5,12.7 42.8,15.2 42.8,16.4'],
 'Kazakhstan':['87.3,49.1 83.3,51 80,50.8 77.8,53.3 76.5,54.2 71,54.2 70.8,55.2 65,54.6 61,54 61,51 55,50.6 51,51.7 47,50 47,48.5 49,46.5 51,47 53,46.8 53,45.3 51.3,45.2 50.3,44.4 51.3,43.2 52.7,42.5 54.7,42 56,41.3 56,45 58.6,45.6 61,44.4 64.4,43.7 66,43 66,41.9 68.3,40.6 69,41.4 70.9,42.3 73.5,42.5 75,42.8 79,42.8 80.2,42.1 80.5,45.3 82.5,45.3 83,47.2 85.5,47.2'],
 'Uzbekistan':['56,41.3 56,45 58.6,45.6 61,44.4 64.4,43.7 66,43 66,41.9 68.3,40.6 69,41.4 70.9,42.3 71,41.2 73.1,40.8 71.7,40.2 70.5,40.3 70.6,41 68.8,40.1 67.8,39 68.2,37.9 67.8,37.2 66.5,37.4 65,38.4 62.4,40 60,41.3 58,42.7 56.9,41.3'],
 'Turkmenistan':['52.7,42.5 54.7,42 56,41.3 56.9,41.3 58,42.7 60,41.3 62.4,40 65,38.4 66.5,37.4 64.5,36.2 61.2,35.6 61,36.6 56.3,38.2 53.9,37.3 53.8,39.8 52.9,40 53,41.5'],
 'Kyrgyzstan':['70.9,42.3 73.5,42.5 75,42.8 79,42.8 80.2,42.1 76,40.4 73.7,39.5 69.7,39.6 71.7,40.2 73.1,40.8 71,41.2'],
 'Tajikistan':['69.7,39.6 73.7,39.5 74.9,37.2 71.6,36.7 70,37.5 68.2,37.1 67.8,37.2 68.2,37.9 67.8,39 68.8,40.1 70.6,41 70.5,40.3 71.7,40.2'],
 'Afghanistan':['61.2,35.6 64.5,36.2 66.5,37.4 67.8,37.2 68.2,37.1 70,37.5 71.6,36.7 74.9,37.2 71.3,36 71,34 69.3,33 69.3,31.9 66.4,30 66.3,29.9 64,29.5 60.9,29.8 61.8,30.8 60.6,33.5'],
 'Pakistan':['60.9,29.8 64,29.5 66.3,29.9 66.4,30 69.3,31.9 69.3,33 71,34 71.3,36 74.9,37.2 75.8,36.6 78,35.5 76,35 74,34.7 74.5,33 75.3,32.3 74,30.9 73.9,29.7 71,27.9 70,26.5 70.5,25.5 71,24.4 68.8,24.2 67.4,24.8 66.5,25.4 61.6,25.1 61.7,27 63.2,27.3 62.8,28.3'],
 'China':['87.3,49.1 87.8,49.2 90.7,47.7 91,45.2 96.4,42.7 100,42.7 105,41.6 111.5,43.7 112,45 116,45.7 119.8,46.7 116,47.9 116.7,49.8 119.8,50 120.8,53.3 125.6,53 127.5,50 131,47.7 135,48.4 133,45.2 131.3,44.9 130.7,42.9 129,42 128,41.4 126.9,41.7 124.4,40 121.5,38.9 122,40.7 119,39.2 117.7,38.8 119,37.4 122.5,37 119.3,35 121.5,32.5 121.8,31 120.9,28 119,25.3 116.5,23 114,22.3 110.5,21.2 108,21.6 106.7,22 105.3,23.3 102.2,22.4 101.7,21.2 101.1,21.5 99.3,22 98.8,24.1 97.7,24.8 98.7,27.6 97.4,28.2 95.2,29.1 92,27.8 89.6,28.2 88.8,27.3 88.2,27.8 86,28 81,30.2 78.8,31.5 78.9,33.3 79.5,34.4 78,35.5 75.8,36.6 74.9,37.2 73.7,39.5 76,40.4 80.2,42.1 80.5,45.3 82.5,45.3 83,47.2 85.5,47.2','109,19.8 110.7,20.1 110,18.4 108.7,18.6'],
 'Mongolia':['87.8,49.2 92,50.7 97,49.8 98.3,52 102.3,50.6 106.6,50.3 108,49.5 113,49.5 116.7,49.8 116,47.9 119.8,46.7 116,45.7 112,45 111.5,43.7 105,41.6 100,42.7 96.4,42.7 91,45.2 90.7,47.7'],
 'North Korea':['130.7,42.3 129.7,41.5 129.7,40.9 127.5,39.8 128.4,38.6 126.7,37.9 125,37.9 125.3,39.5 124.4,40 126.9,41.7 128,41.4 129,42 130.7,42.9'],
 'Nepal':['88.1,26.4 88.2,27.8 86,28 81,30.2 80,28.8 81,28.2 83.3,27.4 85,26.7'],
 'Bhutan':['88.8,27.3 89.6,28.2 92,27.8 91.7,26.8 89,26.8'],
 'India':['78,35.5 76,35 74,34.7 74.5,33 75.3,32.3 74,30.9 73.9,29.7 71,27.9 70,26.5 70.5,25.5 71,24.4 68.8,24.2 68.2,23.7 69,22.3 70.5,20.9 72.2,21.1 72.7,21 73,19 73.5,16 74.5,13 76,10 77.5,8.1 78.2,8.9 79.8,10.3 80.3,13.5 80.1,15.5 82.3,16.6 86.5,19.9 87,21.5 89,21.7 89.1,23 88.2,24.5 88.4,25.2 89.8,25.3 92.4,25 91.2,24 91.8,23.2 92.6,21.2 93.2,22.3 93.4,24 94.3,25.5 95.2,26.7 97.3,27.9 97.4,28.2 95.2,29.1 92,27.8 91.7,26.8 89,26.8 88.8,27.3 88.2,27.8 88.1,26.4 85,26.7 83.3,27.4 81,28.2 80,28.8 81,30.2 78.8,31.5 78.9,33.3 79.5,34.4'],
 'Bangladesh':['89,21.7 89.1,23 88.2,24.5 88.4,25.2 89.8,25.3 92.4,25 91.2,24 91.8,23.2 92.6,21.2 92,21.7 90.5,22.8'],
 'Myanmar':['92.6,21.2 93.2,22.3 93.4,24 94.3,25.5 95.2,26.7 97.3,27.9 97.4,28.2 98.7,27.6 97.7,24.8 98.8,24.1 99.3,22 101.1,21.5 100.1,20.3 97.8,18.6 98.8,16.2 98.2,14 99.3,11 98.7,10.2 98.5,12 97.6,15 97,17 95.4,15.8 94.3,16 94.5,18.5 93,20'],
 'Thailand':['100.1,20.3 97.8,18.6 98.8,16.2 98.2,14 99.3,11 98.7,10.2 98.3,8 100,6.6 101.1,5.7 102.1,6.2 101,6.9 100,8.5 99.3,9.3 99.9,12.6 100.9,13.4 102.9,11.7 102.4,13.6 103.5,14.4 105.2,14.3 105.6,15.8 104.7,17.6 103,18.3 102,17.9 100.9,17.6 101.2,19.6 100.5,20.3'],
 'Laos':['100.1,20.3 100.5,20.3 101.2,19.6 100.9,17.6 102,17.9 103,18.3 104.7,17.6 105.6,15.8 105.2,14.3 106.5,14.5 107.5,14.7 106.7,16.4 105,18.4 104,19.3 104.3,20.4 103,20.7 102.2,22.4 101.7,21.2 101.1,21.5'],
 'Vietnam':['102.2,22.4 105.3,23.3 106.7,22 108,21.6 106.6,20.2 105.7,19 107,16.9 109,13.9 109.2,11.7 106.8,10.4 105.2,8.7 104.9,10.3 106,10.9 107.5,12.4 107.5,14.7 106.7,16.4 105,18.4 104,19.3 104.3,20.4 103,20.7'],
 'Cambodia':['102.9,11.7 102.4,13.6 103.5,14.4 105.2,14.3 106.5,14.5 107.5,14.7 107.5,12.4 106,10.9 104.9,10.3 103.5,10.6'],
 'Malaysia':['100,6.6 101.1,5.7 102.1,6.2 103.4,4 103.5,2.7 104.2,1.4 103.4,1.5 101.3,2.9 100.4,5.5','109,1.5 109.6,2 111.2,2.6 113,3.2 114,4.6 115,5 116.7,7 117.7,6.2 119,5.3 117.6,4.2 115.8,4.3 114.8,2 112.2,1.4 111,1.4'],
 'Indonesia':['109,1.5 111,1.4 112.2,1.4 114.8,2 115.8,4.3 117.6,4.2 118,2.2 119,1 117.5,0 117.5,-1 116.5,-1.5 116,-3.7 114.6,-4.1 111.7,-3.2 110.2,-2.9 109,-0.5','95.3,5.6 97.5,5.2 100,2.5 103.5,0 104.5,-1 106,-3 105.8,-5.9 104.5,-5.8 102,-4 100.4,-1 98.7,1.7','105.2,-6.8 106.7,-6 108.5,-6.6 110.8,-6.4 112.7,-7 114.5,-7.8 114.4,-8.7 111,-8.3 108,-7.8 105.5,-6.9','120,1.2 123,0.9 125.2,1.5 124.5,0.4 120.5,0.4 120.1,-0.9 121.5,-0.9 123.3,-0.9 121.5,-1.9 122.8,-4.4 122,-4.8 121,-2.8 120.4,-2.9 120.4,-5.6 119.5,-5.4 118.8,-2.8 119.8,0.2','127.6,2 128.6,1.3 127.9,0.3 128.2,-0.8 127.5,0.5','123.5,-10.3 124.9,-9 125,-9.5','119.8,-8.4 122.9,-8.2 122.8,-8.8 120,-8.9','116,-8.4 119,-8.2 118.9,-8.9 116.8,-9','119,-9.6 120.8,-10 120,-9.4','127.8,-3.2 130.5,-3.4 129,-3.1','126,-3.2 127.2,-3.4 126.5,-3.8','131,-0.8 134,-0.8 135,-3.3 138,-1.7 141,-2.6 141,-9.1 139,-8 138,-8.4 138.8,-7 138,-5.5 133,-4 132.8,-2.9 134,-2.3 133,-2.4 132,-2'],
 'Timor':['124.9,-9 127.3,-8.4 125.8,-9.1 125,-9.5'],
 'Philippines':['120.4,18.5 122.2,18.5 121.7,16.5 122,15 124,13 123.5,13.5 121.8,13.8 120.7,14 120.2,16','122,7 123.5,8.5 125.5,9.7 126.5,7.5 126,6.3 125.3,5.7 124,6.5 123.5,7.5','117.2,8.4 119.5,11.3 119.7,10.5 118,8.7','124.3,12.5 125.7,11.1 125,10.3','122,11.8 123.1,11.5 123.5,9.2 122.5,9.9','120.3,13.4 121.5,13 121.2,12.2'],
 'Sri Lanka':['80,9.8 81.9,7.3 81,6 80,6.2 79.8,8'],
 'Papua New Guinea':['141,-2.6 144.5,-3.8 147,-6 147.8,-6.8 147.2,-7 148.7,-9 150.8,-10.3 147.5,-10 146,-8.2 144.5,-7.7 143,-9.2 141,-9.1','148.3,-5.6 150,-5.6 152.3,-4.2 152,-5.4 149.8,-6.3','150.8,-2.6 152.5,-3.8 153,-4.7 151.8,-3.2','154.7,-5.4 155.9,-6.8 155,-6.6'],
 'Solomon Islands':['156.5,-6.8 158,-7.6 157.4,-7.6','158.3,-7.6 159.8,-8.5 159.6,-8.7','160,-9 161,-10 160.3,-9.6','159.8,-9.3 160.7,-9.8 160,-9.8'],
 'Vanuatu':['166.6,-14.7 167.2,-15.5 166.8,-15.7','167.5,-16 168,-16.5 167.7,-16.5'],
 'New Caledonia':['164,-20.1 167,-22.3 166.4,-22.3 164.3,-20.6'],
 'Fiji':['177.3,-17.5 178.6,-17.7 178.5,-18.2 177.3,-18.2','178.7,-16.7 180,-16.2 179.4,-17'],
 'Palau':['134.4,7.6 134.7,7.6 134.5,7.3'],
 'Micronesia':['151.7,7.5 152,7.5 151.8,7.2','158.1,7 158.4,7 158.2,6.7','163,5.5 163.2,5.4 163.1,5.2'],
 'Marshall Islands':['171,7.2 171.3,7.2 171.1,7','168.6,9 168.9,9 168.7,8.7'],
 'Kiribati':['172.9,1.5 173.2,1.5 173,1.2'],
 'Nauru':['166.8,-0.4 167.1,-0.4 166.9,-0.7'],
 'Tuvalu':['179,-8.4 179.3,-8.4 179.1,-8.7','176.2,-5.7 176.4,-5.7 176.3,-6','178.5,-7.4 178.7,-7.4 178.6,-7.7'],
 'Samoa':['177.8,-10.2 178,-10.2 177.9,-10.4'],
 'Tonga':['176.5,-11 176.7,-11 176.6,-11.2']
};

// ---------- Robinson projection, calibrated to the reference ----------
const robX = [1,.9986,.9954,.99,.9822,.973,.96,.9427,.9216,.8962,.8679,.835,.7986,.7597,.7186,.6732,.6213,.5722,.5322];
const robY = [0,.062,.124,.186,.248,.31,.372,.434,.4958,.5571,.6176,.6769,.7346,.7903,.8435,.8936,.9394,.9761,1];
const CX = 1447, EQ = 1265, KX = 9.33, KY = 855;
function lerp(t, a){ const f=Math.min(Math.abs(a),89.999)/5, i=Math.floor(f); return t[i]+(t[i+1]-t[i])*(f-i); }
function project(p){ return [CX + p[0]*KX*lerp(robX,p[1]), EQ - Math.sign(p[1])*KY*lerp(robY,p[1])]; }
function unproject(p){
  const Y=(EQ-p[1])/KY, a=Math.abs(Y); let i=0; while(i<17 && robY[i+1]<a) i++;
  const lat=Math.sign(Y)*5*(i+(a-robY[i])/(robY[i+1]-robY[i]));
  return [(p[0]-CX)/(KX*lerp(robX,lat)), lat];
}

function parseRing(s){ const r=s.trim().split(/\s+/).map(q=>q.split(',').map(Number)); r.push(r[0].slice()); return r; }
const features=[]; 
[noDataShapes,dataShapes].forEach(g=>Object.keys(g).forEach(name=>{
  features.push({type:'Feature',properties:{name},geometry:{type:'MultiPolygon',coordinates:g[name].map(s=>[parseRing(s)])}});
}));
echarts.registerMap('world',{type:'FeatureCollection',features});
let x0=1e9,x1=-1e9,y0=1e9,y1=-1e9;
features.forEach(f=>f.geometry.coordinates.forEach(pg=>pg[0].forEach(pt=>{const q=project(pt);x0=Math.min(x0,q[0]);x1=Math.max(x1,q[0]);y0=Math.min(y0,q[1]);y1=Math.max(y1,q[1]);})));

// hatch pattern
function hatch(){ const T=28,c=document.createElement('canvas'); c.width=T;c.height=T; const g=c.getContext('2d');
  g.fillStyle='#fff';g.fillRect(0,0,T,T);g.strokeStyle='#cfcfcf';g.lineWidth=3;
  [[-T,T,T,-T],[0,T,T,0],[0,2*T,2*T,0]].forEach(l=>{g.beginPath();g.moveTo(l[0],l[1]);g.lineTo(l[2],l[3]);g.stroke();});
  return c; }
const hatchFill={image:hatch(),repeat:'repeat'};

const allNames=[...namesAmericas,...namesAfrica,...namesEurope,...namesAsia,...namesOceania];
const allValues=[...valuesAmericas,...valuesAfrica,...valuesEurope,...valuesAsia,...valuesOceania];
const mapData=allNames.map((n,i)=>({name:n,value:allValues[i],itemStyle:{borderColor:'#4a4a4a',borderWidth:1.6}}));
const pieces=binColors.map((c,i)=>({gte:tickValues[i],lt:tickValues[i+1],color:c}));

const SANS='Lato, "Open Sans", sans-serif';
const txt=(x,y,text,font,fill,align)=>({type:'text',silent:true,style:{x,y,text,font,fill,textAlign:align||'left',textVerticalAlign:'bottom'}});

const chart=echarts.init(document.getElementById('c'),null,{renderer:'canvas',devicePixelRatio:1});
chart.setOption({
  animation:false, backgroundColor:'#fff',
  visualMap:{show:false,type:'piecewise',seriesIndex:0,pieces,dimension:0},
  grid:[{left:412,width:2846,top:2065,height:40},{left:141,width:191,top:2065,height:40}],
  xAxis:[
    {gridIndex:0,type:'value',position:'top',min:0,max:9,interval:1,splitLine:{show:false},axisLine:{show:false},
     axisTick:{show:true,length:12,lineStyle:{color:'#666',width:1}},
     axisLabel:{show:true,margin:15,color:'#111',fontSize:52,fontFamily:SANS,formatter:v=>tickLabels[Math.round(v)]}},
    {gridIndex:1,type:'category',position:'top',data:['No data'],axisLine:{show:false},
     axisTick:{show:true,alignWithLabel:true,length:12,lineStyle:{color:'#666',width:1}},
     axisLabel:{margin:15,color:'#111',fontSize:52,fontFamily:SANS}}
  ],
  yAxis:[{gridIndex:0,type:'category',data:['bins'],show:false},{gridIndex:1,type:'value',min:0,max:1,show:false}],
  series:[
    {type:'map',map:'world',projection:{project,unproject},left:x0,top:y0,width:x1-x0,height:y1-y0,roam:false,silent:true,
     selectedMode:false,label:{show:false},emphasis:{disabled:true},
     itemStyle:{areaColor:hatchFill,color:hatchFill,borderColor:'#c4c4c4',borderWidth:1.5},data:mapData},
    ...legendBinSpan.map((v,i)=>({type:'bar',xAxisIndex:0,yAxisIndex:0,stack:'bins',barWidth:40,silent:true,data:[v],
       itemStyle:{color:binColors[i],borderColor:'#6e6e6e',borderWidth:1}})),
    {type:'bar',xAxisIndex:1,yAxisIndex:1,barWidth:191,silent:true,data:[1],itemStyle:{color:hatchFill,borderColor:'#6e6e6e',borderWidth:1}}
  ],
  graphic:[
    txt(61,170,'International finance received for clean energy, 2021','108px "Liberation Serif", serif','#5b5b5b'),
    txt(61,247,'International financing to developing countries in support of clean energy research and development and renewable','57px '+SANS,'#5b5b5b'),
    txt(61,316,'energy production. This data is expressed in US dollars. It is adjusted for inflation but does not account for','57px '+SANS,'#5b5b5b'),
    txt(61,384,'differences in the cost of living between countries.','57px '+SANS,'#5b5b5b'),
    {type:'rect',silent:true,shape:{x:3096,y:60,width:243,height:138},style:{fill:'#002147'}},
    {type:'rect',silent:true,shape:{x:3096,y:183,width:243,height:15},style:{fill:'#d42b21'}},
    {type:'text',silent:true,style:{x:3218,y:98,text:'Our World',font:'50px '+SANS,fill:'#fff',textAlign:'center',textVerticalAlign:'middle'}},
    {type:'text',silent:true,style:{x:3218,y:150,text:'in Data',font:'50px '+SANS,fill:'#fff',textAlign:'center',textVerticalAlign:'middle'}},
    txt(61,2280,'Source: OECD and International Renewable Energy Agency','50px '+SANS,'#777'),
    txt(61,2343,'Note: This data is expressed in constant constant 2020 US$.','50px '+SANS,'#777'),
    txt(3328,2280,'OurWorldInData.org/renewable-energy • CC BY','50px '+SANS,'#777','right'),
    {type:'rect',silent:true,shape:{x:61,y:2398,width:3278,height:2},style:{fill:'#777'}}
  ]
});
</script></body></html>
